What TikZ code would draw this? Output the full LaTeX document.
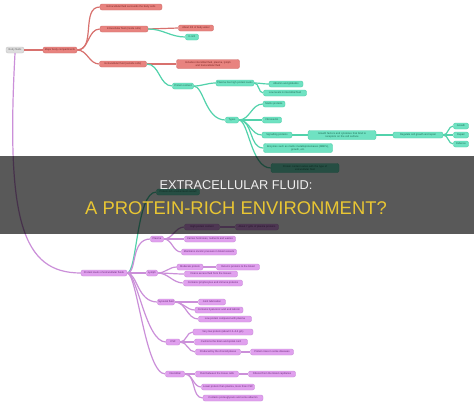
\documentclass[tikz,border=0pt]{standalone}
\usepackage{fontspec}
\setmainfont{Liberation Sans}
\definecolor{redF}{HTML}{E8837F}
\definecolor{redD}{HTML}{D06C69}
\definecolor{redT}{HTML}{7A2422}
\definecolor{redL}{HTML}{D8716E}
\definecolor{grnF}{HTML}{6FE2C2}
\definecolor{grnD}{HTML}{4FCDA8}
\definecolor{grnT}{HTML}{1E6B55}
\definecolor{grnL}{HTML}{52D2AB}
\definecolor{purF}{HTML}{E0A0EE}
\definecolor{purD}{HTML}{C98BD8}
\definecolor{purT}{HTML}{6A2A7A}
\definecolor{purL}{HTML}{CB8FD9}
\definecolor{rootF}{HTML}{DDDDDD}
\definecolor{rootD}{HTML}{C4C4C4}
\definecolor{rootT}{HTML}{666666}
\definecolor{titleW}{HTML}{EEEEEE}
\definecolor{titleY}{HTML}{E9C633}
\begin{document}
\begin{tikzpicture}[x=1pt,y=-1pt,
  base/.style={rounded corners=2pt, inner sep=0.6pt, minimum height=6pt,
    font=\fontsize{2.6}{3}\selectfont, line width=0.4pt, align=center},
  rn/.style={base, fill=redF, draw=redD, text=redT},
  gn/.style={base, fill=grnF, draw=grnD, text=grnT},
  pn/.style={base, fill=purF, draw=purD, text=purT},
  rootn/.style={base, fill=rootF, draw=rootD, text=rootT},
  rl/.style={draw=redL, line width=1.2pt},
  gl/.style={draw=grnL, line width=1.2pt},
  pl/.style={draw=purL, line width=1.2pt},
  fan/.style={out=0, in=180},
  trunk/.style={out=0, in=180, out distance=10pt, in distance=20pt},
  titlefont/.style={font=\fontsize{#1}{#1}\selectfont, inner sep=0pt}
]
\fill[white] (0,0) rectangle (474,407);
\useasboundingbox (0,0) rectangle (474,407);

% root and red branch
\node[rootn, minimum width=18pt] (root) at (15,50) {Body fluids};
\node[rn, minimum width=34pt] (R0) at (60,50) {Major body compartments};
\node[rn, minimum width=62pt] (R1) at (131,7) {Extracellular fluid surrounds the body cells};
\node[rn, minimum width=48pt] (R2) at (124,29) {Intracellular fluid (inside cells)};
\node[rn, minimum width=47pt] (R3) at (123,64) {Extracellular fluid (outside cells)};
\node[rn, minimum width=35pt] (R2a) at (196,28) {About 2/3 of body water};
\node[rn, minimum width=63pt, minimum height=9pt, text width=60pt] (R3a) at (208,64) {Includes interstitial fluid, plasma, lymph\\and transcellular fluid};

% green branch
\node[gn, minimum width=13pt] (G0) at (192,37) {K-rich};
\node[gn, minimum width=21pt] (G1) at (183,86) {Protein content};
\node[gn, minimum width=38pt] (G1a) at (235,83) {Plasma has high protein levels};
\node[gn, minimum width=34pt] (G1b) at (286,84) {Albumin and globulins};
\node[gn, minimum width=43pt] (G1c) at (285,93) {Low levels in interstitial fluid};
\node[gn, minimum width=13pt] (G2) at (232,120) {Types};
\node[gn, minimum width=22pt] (G2a) at (274,104) {Matrix proteins};
\node[gn, minimum width=19pt] (G2b) at (272,120) {Fibronectin};
\node[gn, minimum width=30pt] (G2c) at (277,135) {Signalling proteins};
\node[gn, minimum width=68pt, minimum height=9pt, text width=65pt] (G2c1) at (342,135) {Growth factors and cytokines that bind to\\receptors on the cell surface};
\node[gn, minimum width=50pt] (G2c2) at (418,135) {Regulate cell growth and repair};
\node[gn, minimum width=15pt] (G2c2a) at (461,126) {Growth};
\node[gn, minimum width=15pt] (G2c2b) at (461,135) {Repair};
\node[gn, minimum width=15pt] (G2c2c) at (461,144) {Defence};
\node[gn, minimum width=69pt, minimum height=9pt, text width=66pt] (G2d) at (298,148) {Enzymes such as matrix metalloproteinases (MMPs),\\growth, etc.};
\node[gn, minimum width=68pt, minimum height=9pt, text width=65pt] (G2e) at (305,168) {Protein content varies with the type of\\extracellular fluid};

% purple branch
\node[pn, minimum width=46pt] (P0) at (104,273) {Protein levels of extracellular fluids};
\node[gn, minimum width=43pt] (D) at (178,192) {Protein-rich environment overall};
\node[pn, minimum width=13pt] (P1) at (157,239) {Plasma};
\node[pn, minimum width=35pt] (P1a) at (202,227) {High protein content};
\node[pn, minimum width=43pt] (P1a1) at (257,227) {About 7 g/dL of plasma proteins};
\node[pn, minimum width=51pt] (P1b) at (210,239) {Carries hormones, nutrients and wastes};
\node[pn, minimum width=55pt] (P1c) at (209,252) {Maintains oncotic pressure in blood vessels};
\node[pn, minimum width=11pt] (P2) at (152,273) {Lymph};
\node[pn, minimum width=26pt] (P2a) at (190,267) {Moderate protein};
\node[pn, minimum width=43pt] (P2a1) at (238,267) {Returns proteins to the blood};
\node[pn, minimum width=53pt] (P2b) at (211,274) {Drains excess fluid from the tissues};
\node[pn, minimum width=59pt] (P2c) at (213,283) {Contains lymphocytes and immune proteins};
\node[pn, minimum width=17pt] (P3) at (166,302) {Synovial fluid};
\node[pn, minimum width=27pt] (P3a) at (212,302) {Joint lubrication};
\node[pn, minimum width=48pt] (P3b) at (219,310) {Contains hyaluronic acid and lubricin};
\node[pn, minimum width=53pt] (P3c) at (225,319) {Low protein compared with plasma};
\node[pn, minimum width=14pt] (P4) at (173,342) {CSF};
\node[pn, minimum width=60pt] (P4a) at (223,332) {Very low protein (about 0.2--0.4 g/L)};
\node[pn, minimum width=53pt] (P4b) at (221,342) {Cushions the brain and spinal cord};
\node[pn, minimum width=45pt] (P4c) at (218,352) {Produced by the choroid plexus};
\node[pn, minimum width=43pt] (P4c1) at (272,352) {Protein rises in some diseases};
\node[pn, minimum width=19pt] (P5) at (175,374) {Interstitial};
\node[pn, minimum width=43pt] (P5a) at (217,374) {Fluid between the tissue cells};
\node[pn, minimum width=47pt] (P5a1) at (272,374) {Filtered from the blood capillaries};
\node[pn, minimum width=53pt] (P5b) at (228,387) {Lower protein than plasma, more than CSF};
\node[pn, minimum width=60pt] (P5c) at (233,398) {Contains proteoglycans and some albumin};

% connectors
\draw[rl] (root.east) -- (R0.west);
\draw[pl] (root.south) .. controls (6,220) and (22,273) .. (P0.west);
\foreach \c in {R1,R2,R3} \draw[rl] (R0.east) to[fan] (\c.west);
\draw[rl] (R2.east) -- (R2a.west);
\draw[gl] (R2.east) to[fan] (G0.west);
\draw[rl] (R3.east) -- (R3a.west);
\draw[gl] (R3.east) to[fan] (G1.west);
\draw[gl] (G1.east) to[fan] (G1a.west);
\draw[gl] (G1.east) to[trunk] (G2.west);
\foreach \c in {G1b,G1c} \draw[gl] (G1a.east) to[fan] (\c.west);
\foreach \c in {G2a,G2b,G2c,G2d} \draw[gl] (G2.east) to[fan] (\c.west);
\draw[gl] (G2.east) to[trunk] (G2e.west);
\draw[gl] (G2c.east) -- (G2c1.west);
\draw[gl] (G2c1.east) -- (G2c2.west);
\foreach \c in {G2c2a,G2c2b,G2c2c} \draw[gl] (G2c2.east) to[fan] (\c.west);

\draw[gl] (P0.east) to[trunk] (D.west);
\draw[pl] (P0.east) to[fan] (P2.west);
\foreach \c in {P1,P3,P4,P5} \draw[pl] (P0.east) to[trunk] (\c.west);
\foreach \c in {P1a,P1b,P1c} \draw[pl] (P1.east) to[fan] (\c.west);
\draw[pl] (P1a.east) -- (P1a1.west);
\foreach \c in {P2a,P2b,P2c} \draw[pl] (P2.east) to[fan] (\c.west);
\draw[pl] (P2a.east) -- (P2a1.west);
\foreach \c in {P3a,P3b,P3c} \draw[pl] (P3.east) to[fan] (\c.west);
\foreach \c in {P4a,P4b,P4c} \draw[pl] (P4.east) to[fan] (\c.west);
\draw[pl] (P4c.east) -- (P4c1.west);
\foreach \c in {P5a,P5b,P5c} \draw[pl] (P5.east) to[fan] (\c.west);
\draw[pl] (P5a.east) -- (P5a1.west);

% banner
\fill[black, opacity=0.65] (0,156) rectangle (474,234);
\node[titlefont=12.8, text=titleW] (t1) at (236,185) {EXTRACELLULAR FLUID:};
\node[titlefont=18.4, text=titleY] (t2) at (236,208) {A PROTEIN-RICH ENVIRONMENT?};
\end{tikzpicture}
\end{document}
